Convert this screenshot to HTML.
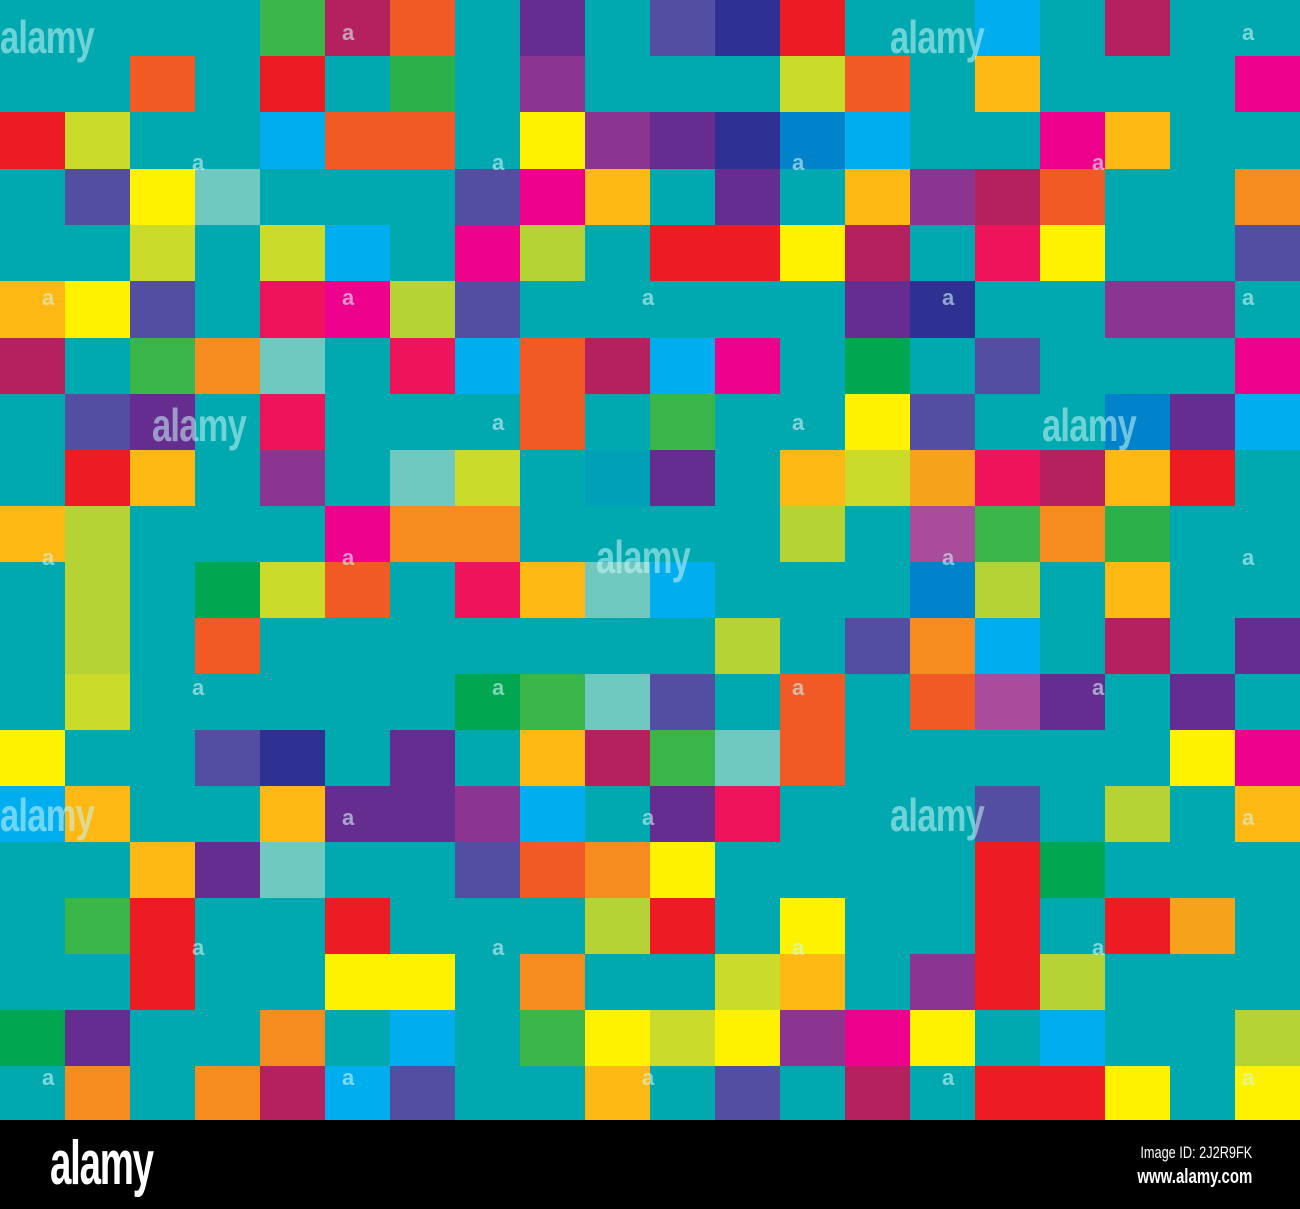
<!DOCTYPE html>
<html><head><meta charset="utf-8"><style>
html,body{margin:0;padding:0;}
body{width:1300px;height:1209px;position:relative;background:#000;overflow:hidden;font-family:"Liberation Sans",sans-serif;}
#g{position:absolute;left:0;top:0;width:1300px;height:1120px;background:#00a8b0;}
#g div{position:absolute;width:65px;}
.wm{position:absolute;color:rgba(200,245,245,0.55);font-weight:bold;font-size:46px;transform:scaleX(0.75);transform-origin:left top;letter-spacing:-1px;}
.a{position:absolute;color:rgba(210,245,245,0.6);font-weight:bold;font-size:22px;}
#logo{position:absolute;left:50px;top:1128px;color:#fff;font-weight:bold;font-size:62px;transform:scaleX(0.62);transform-origin:left top;letter-spacing:-2px;}
#id{position:absolute;right:48px;top:1143px;color:#fff;font-size:17px;transform:scaleX(0.75);transform-origin:right top;}
#www{position:absolute;right:48px;top:1166px;color:#fff;font-size:20px;font-weight:bold;transform:scaleX(0.75);transform-origin:right top;}
</style></head><body>
<div id="g"></div>
<div class="wm" style="left:0;top:10px">alamy</div>
<div class="wm" style="left:890px;top:10px">alamy</div>
<div class="wm" style="left:152px;top:398px">alamy</div>
<div class="wm" style="left:1042px;top:398px">alamy</div>
<div class="wm" style="left:596px;top:530px">alamy</div>
<div class="wm" style="left:0;top:788px">alamy</div>
<div class="wm" style="left:890px;top:788px">alamy</div>
<div id="logo">alamy</div>
<div id="id">Image ID: 2J2R9FK</div>
<div id="www">www.alamy.com</div>
<script>
var C={t:null,R:'#ed1c24',O:'#f15a24',o:'#f68b1f',q:'#f7a21b',Y:'#fff200',y:'#fdb813',L:'#cbdb2a',l:'#b5d334',G:'#3ab54a',H:'#2bb04a',g:'#00a650',B:'#00aeef',b:'#0083ca',P:'#662d91',p:'#8b3590',V:'#524ea1',N:'#2e3192',M:'#ec008c',m:'#ed145b',C:'#b5215f',A:'#70c9c0',d:'#00a0b8',k:'#a94c9c'};
var rows=[
"ttttGCOtPtVNRttBtCtt",
"ttOtRtHtptttLOtytttM",
"RLttBOOtYpPNbBttMytt",
"tVYAtttVMytPtypCOtto",
"ttLtLBtMltRRYCtmYttV",
"yYVtmMlVtttttPNttppt",
"CtGoAtmBOCBMtgtVtttM",
"tVPtmtttOtGttYVttbPB",
"tRytptALtdPtyLqmCyRt",
"yltttMootttltkGoHtt",
"tltgLOtmyABtttblty tt".replace(' ',''),
"tltOtttttttltVoBtCtP",
"tLtttttgGAVtOtOkPtPt",
"YttVNtPtyCGAOtttttYM",
"BsttyPPpBtPmtttVtlty".replace('s','y'),
"ttyPAttVOoYtttttRgtt".replace(/^(.{15})./,'$1R'),
"tGRttRtttlRtYttRtRqt",
"ttRttYYtottLytpRlttt",
"gPttotBtGYLYpMYtBttl",
"tttoCBVttytVtCtRRYtY".replace(/^./,'t')
];
rows[9]="yltttMoottttltkGoHtt";
rows[14]="ByttyPPpBtPmtttVtlty";
rows[15]="ttyPAttVOoYttttRgttt";
rows[19]="totoCBVttytVtCtRRYtY";
var ys=[0,56,112,169,225,281,338,394,450,506,562,618,674,730,786,842,898,954,1010,1066,1120];
var g=document.getElementById('g'),h='';
for(var r=0;r<20;r++){for(var c=0;c<20;c++){var k=rows[r][c],col=C[k];if(col){h+='<div style="left:'+(c*65)+'px;top:'+ys[r]+'px;height:'+(ys[r+1]-ys[r])+'px;background:'+col+'"></div>';}}}
g.innerHTML=h;
var s='';
for(var r=0;r<10;r++){for(var c=0;c<10;c++){var x=c*130+(r%2?0:0)+45, y=ys[r*2]+ (r%2?0:0)+22; if(r%2)x+=0;s+='<div class="a" style="left:'+(x+(c%2?150:0)%130)+'px;top:'+(y+8)+'px">a</div>';}}
</script>
<div class="a" style="left:342px;top:20px">a</div><div class="a" style="left:1242px;top:20px">a</div>
<div class="a" style="left:192px;top:150px">a</div><div class="a" style="left:492px;top:150px">a</div><div class="a" style="left:792px;top:150px">a</div><div class="a" style="left:1092px;top:150px">a</div>
<div class="a" style="left:42px;top:285px">a</div><div class="a" style="left:342px;top:285px">a</div><div class="a" style="left:642px;top:285px">a</div><div class="a" style="left:942px;top:285px">a</div><div class="a" style="left:1242px;top:285px">a</div>
<div class="a" style="left:492px;top:410px">a</div><div class="a" style="left:792px;top:410px">a</div>
<div class="a" style="left:42px;top:545px">a</div><div class="a" style="left:342px;top:545px">a</div><div class="a" style="left:942px;top:545px">a</div><div class="a" style="left:1242px;top:545px">a</div>
<div class="a" style="left:192px;top:675px">a</div><div class="a" style="left:492px;top:675px">a</div><div class="a" style="left:792px;top:675px">a</div><div class="a" style="left:1092px;top:675px">a</div>
<div class="a" style="left:342px;top:805px">a</div><div class="a" style="left:642px;top:805px">a</div><div class="a" style="left:1242px;top:805px">a</div>
<div class="a" style="left:192px;top:935px">a</div><div class="a" style="left:492px;top:935px">a</div><div class="a" style="left:792px;top:935px">a</div><div class="a" style="left:1092px;top:935px">a</div>
<div class="a" style="left:42px;top:1065px">a</div><div class="a" style="left:342px;top:1065px">a</div><div class="a" style="left:642px;top:1065px">a</div><div class="a" style="left:942px;top:1065px">a</div><div class="a" style="left:1242px;top:1065px">a</div>
</body></html>
